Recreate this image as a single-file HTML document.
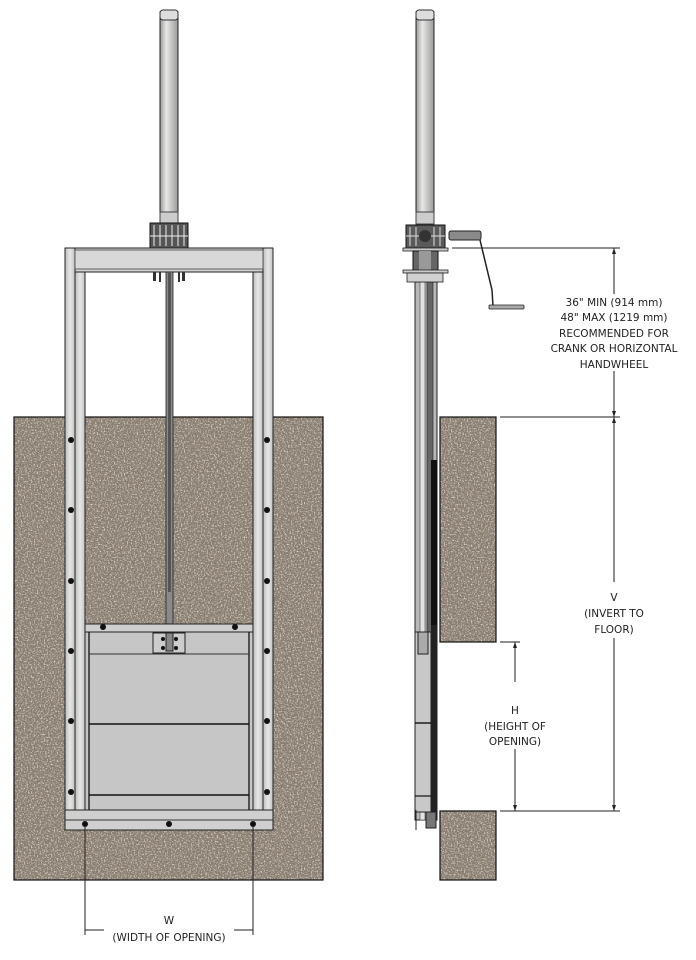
<!DOCTYPE html>
<html><head><meta charset="utf-8"><style>
html,body{margin:0;padding:0;background:#fff}
svg{display:block}
text{font-family:"DejaVu Sans","Liberation Sans",sans-serif;font-size:10.5px;fill:#222}
</style></head><body>
<svg width="696" height="960" viewBox="0 0 696 960" xmlns="http://www.w3.org/2000/svg">
<defs>
<filter id="conc" x="0" y="0" width="100%" height="100%">
<feTurbulence type="fractalNoise" baseFrequency="0.8" numOctaves="2" seed="3" result="n"/>
<feColorMatrix in="n" type="matrix" values="0 0 0 0 0.30  0 0 0 0 0.26  0 0 0 0 0.22  0 0 0 -3 1.75" result="c"/>
<feComposite in="c" in2="SourceGraphic" operator="in"/>
</filter>
<filter id="conc2" x="0" y="0" width="100%" height="100%">
<feTurbulence type="fractalNoise" baseFrequency="0.7" numOctaves="2" seed="9" result="n"/>
<feColorMatrix in="n" type="matrix" values="0 0 0 0 0.78  0 0 0 0 0.74  0 0 0 0 0.68  0 0 0 -3 1.55" result="c"/>
<feComposite in="c" in2="SourceGraphic" operator="in"/>
</filter>
<linearGradient id="stem" x1="0" x2="1"><stop offset="0" stop-color="#999"/><stop offset=".35" stop-color="#e8e8e6"/><stop offset="1" stop-color="#9a9a98"/></linearGradient>
<linearGradient id="post" x1="0" x2="1"><stop offset="0" stop-color="#bdbdbd"/><stop offset=".5" stop-color="#e6e6e6"/><stop offset="1" stop-color="#c4c4c4"/></linearGradient>
<g id="cfill"></g>
</defs>

<!-- LEFT VIEW concrete -->
<rect x="14" y="417" width="309" height="463" fill="#85786a"/>
<rect x="14" y="417" width="309" height="463" fill="#000" filter="url(#conc)"/>
<rect x="14" y="417" width="309" height="463" fill="#000" filter="url(#conc2)"/>
<rect x="14" y="417" width="309" height="463" fill="none" stroke="#111" stroke-width="1.2"/>

<!-- stem -->
<rect x="160" y="12" width="18" height="204" fill="url(#stem)" stroke="#222" stroke-width="1"/>
<rect x="160" y="10" width="18" height="10" rx="3" fill="#ddd" stroke="#333"/>
<rect x="160" y="212" width="18" height="12" fill="#ccc" stroke="#444"/>
<!-- operator -->
<rect x="150" y="223" width="38" height="25" fill="#555" stroke="#111"/>
<g stroke="#eee" stroke-width="1"><line x1="154" y1="225" x2="154" y2="246"/><line x1="160" y1="225" x2="160" y2="246"/><line x1="166" y1="225" x2="166" y2="246"/><line x1="172" y1="225" x2="172" y2="246"/><line x1="178" y1="225" x2="178" y2="246"/><line x1="184" y1="225" x2="184" y2="246"/><line x1="150" y1="236" x2="188" y2="236"/></g>

<!-- frame posts -->
<rect x="65" y="248" width="10" height="582" fill="url(#post)" stroke="#222"/>
<rect x="75" y="270" width="10" height="560" fill="url(#post)" stroke="#222"/>
<rect x="263" y="248" width="10" height="582" fill="url(#post)" stroke="#222"/>
<rect x="253" y="270" width="10" height="560" fill="url(#post)" stroke="#222"/>
<!-- top bar -->
<rect x="75" y="248" width="188" height="24" fill="#d2d2d2" stroke="#222"/>
<rect x="75" y="250" width="188" height="19" fill="#d8d8d8" stroke="#444" stroke-width=".8"/>
<g fill="#333"><rect x="153" y="272" width="3" height="9"/><rect x="159" y="272" width="2" height="10"/><rect x="178" y="272" width="2" height="10"/><rect x="182" y="272" width="3" height="9"/></g>
<!-- rod -->
<rect x="166" y="272" width="7" height="365" fill="#8a8a8a" stroke="#222" stroke-width=".8"/>
<rect x="168" y="272" width="3" height="320" fill="#555"/>
<!-- cross bar -->
<rect x="85" y="624" width="168" height="8" fill="#cfcfcf" stroke="#222"/>
<!-- gate -->
<rect x="85" y="632" width="168" height="178" fill="#c6c6c6" stroke="#222"/>
<line x1="89" y1="632" x2="89" y2="810" stroke="#111" stroke-width="1.3"/>
<line x1="249" y1="632" x2="249" y2="810" stroke="#111" stroke-width="1.3"/>
<line x1="89" y1="654" x2="249" y2="654" stroke="#333"/>
<line x1="89" y1="724" x2="249" y2="724" stroke="#111" stroke-width="1.4"/>
<line x1="89" y1="795" x2="249" y2="795" stroke="#111" stroke-width="1.4"/>
<rect x="153" y="633" width="32" height="20" fill="#ccc" stroke="#222"/>
<rect x="166" y="633" width="7" height="18" fill="#888" stroke="#222"/>
<g fill="#111"><circle cx="163" cy="639" r="2"/><circle cx="163" cy="648" r="2"/><circle cx="176" cy="639" r="2"/><circle cx="176" cy="648" r="2"/></g>
<!-- bottom sill -->
<rect x="65" y="810" width="208" height="20" fill="#d0d0d0" stroke="#222"/>
<line x1="65" y1="820" x2="273" y2="820" stroke="#333"/>
<!-- bolts -->
<g fill="#111">
<circle cx="71" cy="440" r="3"/><circle cx="71" cy="510" r="3"/><circle cx="71" cy="581" r="3"/><circle cx="71" cy="651" r="3"/><circle cx="71" cy="721" r="3"/><circle cx="71" cy="792" r="3"/>
<circle cx="267" cy="440" r="3"/><circle cx="267" cy="510" r="3"/><circle cx="267" cy="581" r="3"/><circle cx="267" cy="651" r="3"/><circle cx="267" cy="721" r="3"/><circle cx="267" cy="792" r="3"/>
<circle cx="103" cy="627" r="3"/><circle cx="235" cy="627" r="3"/>
<circle cx="85" cy="824" r="3"/><circle cx="169" cy="824" r="3"/><circle cx="253" cy="824" r="3"/>
</g>
<!-- W dimension -->
<g stroke="#222" stroke-width="1">
<line x1="85" y1="826" x2="85" y2="935"/><line x1="253" y1="826" x2="253" y2="935"/>
<line x1="85" y1="930" x2="104" y2="930"/><line x1="234" y1="930" x2="253" y2="930"/>
</g>
<text x="169" y="924" text-anchor="middle">W</text>
<text x="169" y="941" text-anchor="middle">(WIDTH OF OPENING)</text>

<!-- RIGHT VIEW -->
<rect x="440" y="417" width="56" height="225" fill="#85786a"/>
<rect x="440" y="417" width="56" height="225" fill="#000" filter="url(#conc)"/>
<rect x="440" y="417" width="56" height="225" fill="#000" filter="url(#conc2)"/>
<rect x="440" y="417" width="56" height="225" fill="none" stroke="#111" stroke-width="1.2"/>
<rect x="440" y="811" width="56" height="69" fill="#85786a"/>
<rect x="440" y="811" width="56" height="69" fill="#000" filter="url(#conc)"/>
<rect x="440" y="811" width="56" height="69" fill="#000" filter="url(#conc2)"/>
<rect x="440" y="811" width="56" height="69" fill="none" stroke="#111" stroke-width="1.2"/>

<rect x="416" y="12" width="18" height="204" fill="url(#stem)" stroke="#222"/>
<rect x="416" y="10" width="18" height="10" rx="3" fill="#ddd" stroke="#333"/>
<rect x="416" y="212" width="18" height="12" fill="#ccc" stroke="#444"/>
<!-- frame side -->
<rect x="415" y="282" width="22" height="538" fill="#b8b8b8" stroke="#222"/>
<rect x="420" y="282" width="5" height="538" fill="#e2e2e2" stroke="#444" stroke-width=".6"/>
<rect x="427" y="282" width="6" height="360" fill="#666" stroke="#222" stroke-width=".6"/>
<rect x="431" y="460" width="6" height="170" fill="#111"/>
<rect x="415" y="632" width="16" height="180" fill="#c8c8c8" stroke="#222"/>
<line x1="415" y1="723" x2="431" y2="723" stroke="#111" stroke-width="1.4"/>
<line x1="415" y1="796" x2="431" y2="796" stroke="#111" stroke-width="1.2"/>
<rect x="431" y="625" width="6" height="195" fill="#222"/>
<rect x="418" y="632" width="10" height="22" fill="#aaa" stroke="#222"/>
<rect x="426" y="812" width="10" height="16" fill="#777" stroke="#222"/>
<line x1="416" y1="810" x2="416" y2="830" stroke="#222"/>
<!-- operator side -->
<rect x="406" y="225" width="39" height="23" fill="#5a5a5a" stroke="#111"/>
<g stroke="#ddd"><line x1="410" y1="227" x2="410" y2="246"/><line x1="416" y1="227" x2="416" y2="246"/><line x1="434" y1="227" x2="434" y2="246"/><line x1="440" y1="227" x2="440" y2="246"/><line x1="406" y1="236" x2="445" y2="236"/></g>
<circle cx="425" cy="236" r="6" fill="#333"/>
<rect x="403" y="248" width="45" height="3" fill="#ccc" stroke="#222" stroke-width=".8"/>
<rect x="413" y="251" width="25" height="19" fill="#666" stroke="#111"/>
<rect x="419" y="251" width="12" height="19" fill="#999"/>
<rect x="403" y="270" width="45" height="3" fill="#ccc" stroke="#222" stroke-width=".8"/>
<rect x="407" y="273" width="36" height="9" fill="#d0d0d0" stroke="#222" stroke-width=".8"/>
<!-- crank -->
<rect x="449" y="231" width="32" height="9" rx="2" fill="#8a8a8a" stroke="#222"/>
<polyline points="480,240 492,290 493,306" fill="none" stroke="#222" stroke-width="1.5"/>
<rect x="489" y="305" width="35" height="4" rx="1" fill="#aaa" stroke="#222" stroke-width=".8"/>

<!-- dimensions right -->
<g stroke="#222" stroke-width="1">
<line x1="452" y1="248" x2="620" y2="248"/>
<line x1="500" y1="417" x2="620" y2="417"/>
<line x1="500" y1="642" x2="520" y2="642"/>
<line x1="500" y1="811" x2="620" y2="811"/>
<line x1="614" y1="248" x2="614" y2="294"/>
<line x1="614" y1="371" x2="614" y2="582"/>
<line x1="614" y1="638" x2="614" y2="811"/>
<line x1="515" y1="642" x2="515" y2="682"/>
<line x1="515" y1="749" x2="515" y2="811"/>
</g>
<g fill="#222"><path d="M614 248 l-2 6 h4z"/><path d="M614 417 l-2 -6 h4z"/><path d="M614 417 l-2 6 h4z"/><path d="M614 811 l-2 -6 h4z"/><path d="M515 642 l-2 6 h4z"/><path d="M515 811 l-2 -6 h4z"/></g>
<g text-anchor="middle">
<text x="614" y="306">36" MIN (914 mm)</text>
<text x="614" y="321">48" MAX (1219 mm)</text>
<text x="614" y="337">RECOMMENDED FOR</text>
<text x="614" y="352">CRANK OR HORIZONTAL</text>
<text x="614" y="368">HANDWHEEL</text>
<text x="614" y="601">V</text>
<text x="614" y="617">(INVERT TO</text>
<text x="614" y="633">FLOOR)</text>
<text x="515" y="714">H</text>
<text x="515" y="730">(HEIGHT OF</text>
<text x="515" y="745">OPENING)</text>
</g>
</svg>
</body></html>
